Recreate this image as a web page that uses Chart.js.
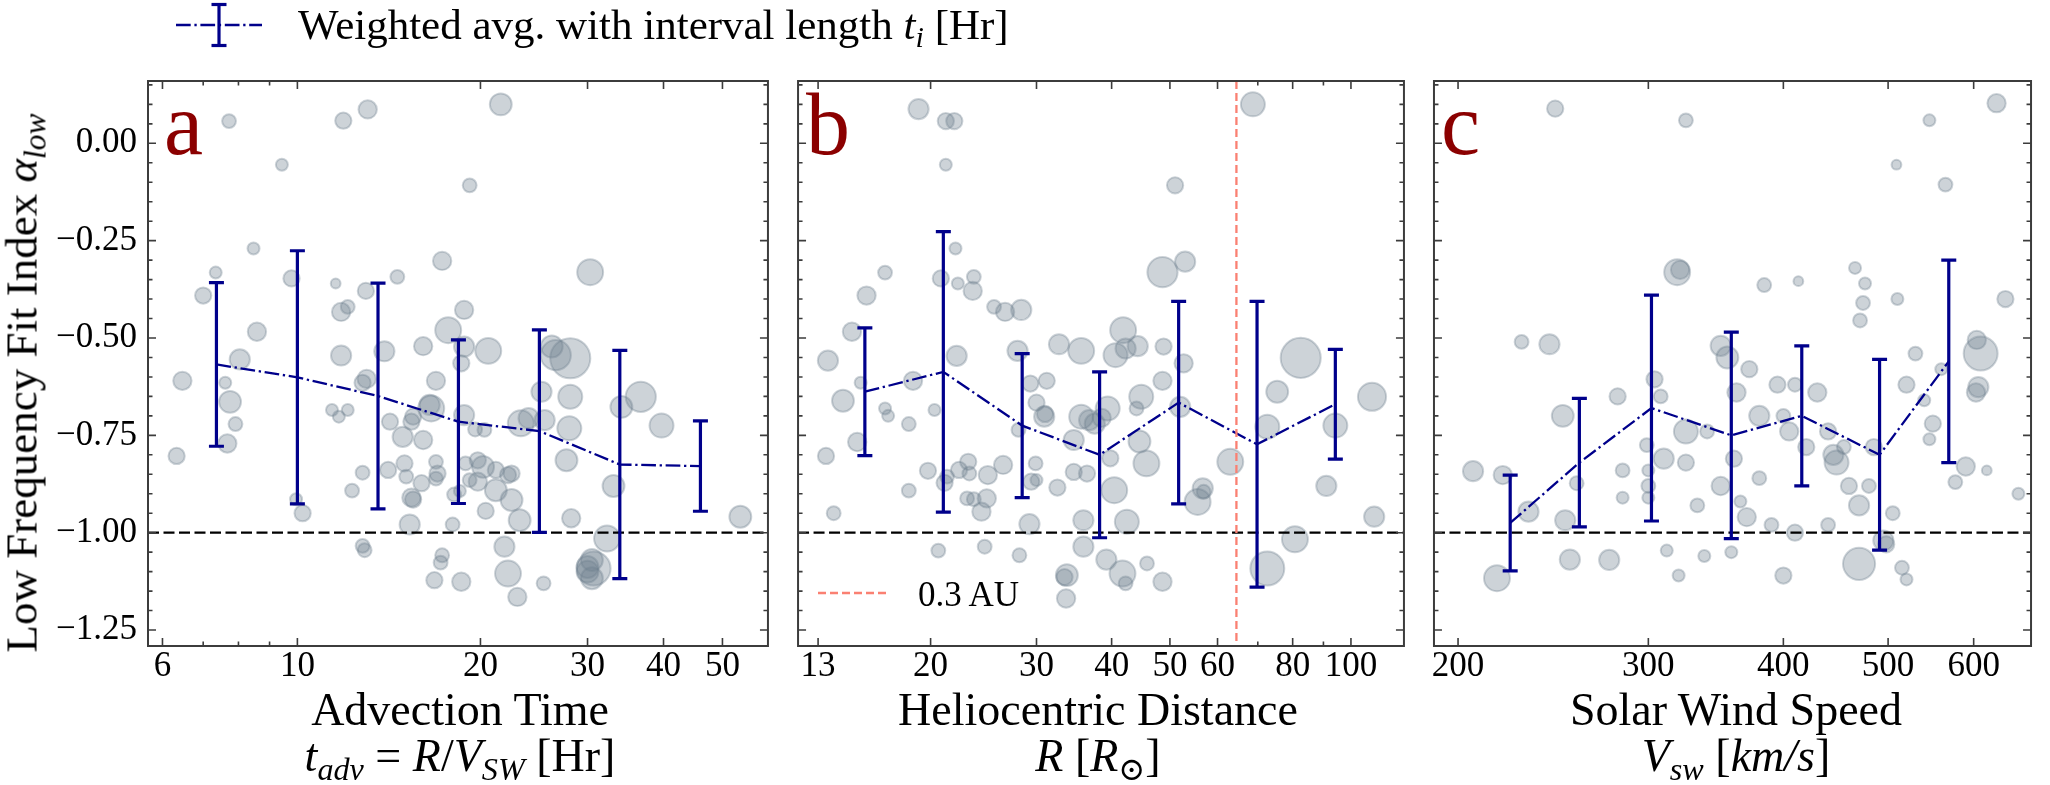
<!DOCTYPE html>
<html>
<head>
<meta charset="utf-8">
<script src="https://cdn.jsdelivr.net/npm/chart.js@4.4.0/dist/chart.umd.min.js"></script>
<style>
  body { margin: 0; background: #fff; width: 2050px; height: 785px; position: relative; overflow: hidden;
         font-family: 'Liberation Serif', 'DejaVu Serif', serif; color: #000; }
  canvas { position: absolute; top: 0; }
  .txt { position: absolute; white-space: nowrap; line-height: 1; }
  .xt { font-size: 46px; transform: translateX(-50%); }
  .letter { font-size: 88px; color: #8b0000; }
  sub { font-size: 0.7em; vertical-align: -0.28em; line-height: 0; }
</style>
</head>
<body>
<canvas id="chartA" width="790" height="785" style="left:0px"></canvas>
<canvas id="chartB" width="650" height="785" style="left:776px"></canvas>
<canvas id="chartC" width="635" height="785" style="left:1415px"></canvas>

<!-- legend for the weighted averages -->
<svg style="position:absolute;left:170px;top:0px" width="100" height="52">
  <line x1="6" y1="25" x2="92" y2="25" stroke="#00008b" stroke-width="2.3" stroke-dasharray="14.7 3.7 2.3 3.7"/>
  <line x1="49" y1="3" x2="49" y2="47" stroke="#00008b" stroke-width="3.2"/>
  <line x1="41.5" y1="4.5" x2="56.5" y2="4.5" stroke="#00008b" stroke-width="3.2"/>
  <line x1="41.5" y1="45.5" x2="56.5" y2="45.5" stroke="#00008b" stroke-width="3.2"/>
</svg>
<div class="txt" style="left:298px;top:3px;font-size:43px">Weighted avg. with interval length <i>t</i><sub><i>i</i></sub> [Hr]</div>

<div class="txt letter" style="left:164px;top:81px">a</div>
<div class="txt letter" style="left:806px;top:81px">b</div>
<div class="txt letter" style="left:1441px;top:81px">c</div>

<div class="txt" style="left:22px;top:383px;font-size:45px;transform:translate(-50%,-50%) rotate(-90deg)">Low Frequency Fit Index <i>α</i><sub><i>low</i></sub></div>

<div class="txt xt" style="left:460px;top:687px">Advection Time</div>
<div class="txt xt" style="left:460px;top:733px"><i>t</i><sub><i>adv</i></sub> = <i>R</i>/<i>V</i><sub><i>SW</i></sub> [Hr]</div>
<div class="txt xt" style="left:1098px;top:687px">Heliocentric Distance</div>
<div class="txt xt" style="left:1098px;top:733px"><i>R</i> [<i>R</i><sub>⊙</sub>]</div>
<div class="txt xt" style="left:1736px;top:687px">Solar Wind Speed</div>
<div class="txt xt" style="left:1736px;top:733px"><i>V</i><sub><i>sw</i></sub> [<i>km/s</i>]</div>

<svg style="position:absolute;left:810px;top:580px" width="90" height="26">
  <line x1="8" y1="13" x2="80" y2="13" stroke="#fa8072" stroke-width="2.3" stroke-dasharray="8 4"/>
</svg>
<div class="txt" style="left:918px;top:577px;font-size:35px">0.3 AU</div>

<script>
// shared y axis
const yMin = -1.291, yMax = 0.160;
const yMajor = [0, -0.25, -0.5, -0.75, -1, -1.25];
const yMinor = [-1.2, -1.15, -1.1, -1.05, -0.95, -0.9, -0.85, -0.8, -0.7, -0.65, -0.6, -0.55,
                -0.45, -0.4, -0.35, -0.3, -0.2, -0.15, -0.1, -0.05, 0.05, 0.1, 0.15];

// panel a: advection time [Hr]
const advTime = [7.72, 11.9, 13.05, 21.6, 9.43, 19.2, 8.47, 7.34, 7.0, 9.78, 11.56, 12.96, 14.6, 17.3, 30.3,
  11.8, 12.1, 18.8, 8.58, 17.7, 11.8, 13.9, 16.1, 18.8, 20.6, 18.6, 26.2, 26.6, 28.1, 8.04,
  6.47, 7.61, 7.75, 12.8, 13.0, 16.9, 25.2, 28.1, 11.4, 12.1, 11.7, 16.5, 16.6, 15.5, 14.2,
  18.8, 20.3, 23.3, 24.0, 25.5, 28.0, 7.91, 7.67, 6.33, 14.9, 16.1, 15.4, 19.6, 27.7, 12.8,
  14.1, 15.0, 15.1, 16.9, 17.0, 16.9, 16.0, 18.9, 19.8, 20.2, 19.8, 19.2, 21.2, 22.2, 22.5,
  21.2, 22.5, 12.3, 15.4, 15.5, 18.1, 18.5, 9.95, 10.2, 15.3, 18.0, 20.4, 23.2, 28.2, 12.8,
  12.9, 21.9, 17.3, 17.2, 16.8, 18.6, 22.2, 25.4, 23.0, 30.0, 30.0, 34.1, 36.7, 39.7, 33.1,
  53.5, 32.3, 30.7, 30.5, 30.5];
const advAlpha = [0.057, 0.058, 0.087, 0.100, -0.055, -0.108, -0.270, -0.332, -0.391, -0.347, -0.360, -0.379, -0.343, -0.302, -0.331,
  -0.433, -0.420, -0.428, -0.484, -0.480, -0.545, -0.534, -0.521, -0.522, -0.533, -0.565, -0.522, -0.544, -0.552, -0.555,
  -0.610, -0.615, -0.664, -0.615, -0.605, -0.610, -0.638, -0.651, -0.685, -0.685, -0.702, -0.672, -0.681, -0.702, -0.715,
  -0.698, -0.736, -0.719, -0.706, -0.711, -0.732, -0.721, -0.771, -0.803, -0.754, -0.762, -0.715, -0.735, -0.814, -0.846,
  -0.839, -0.822, -0.856, -0.818, -0.848, -0.861, -0.873, -0.822, -0.814, -0.831, -0.869, -0.865, -0.839, -0.852, -0.848,
  -0.891, -0.916, -0.892, -0.910, -0.915, -0.902, -0.893, -0.914, -0.950, -0.979, -0.979, -0.944, -0.968, -0.963, -1.034,
  -1.045, -1.036, -1.058, -1.077, -1.122, -1.126, -1.105, -1.130, -1.165, -1.088, -1.100, -0.677, -0.651, -0.725, -0.880,
  -0.959, -1.015, -1.092, -1.070, -1.117];
const advInterval = [8, 11, 14, 20, 6, 8, 6, 6, 11, 11, 4, 11, 8, 14, 28,
  14, 8, 14, 14, 28, 17, 17, 14, 17, 28, 11, 20, 38, 67, 17,
  14, 6, 20, 11, 14, 14, 17, 24, 6, 6, 6, 17, 28, 11, 11,
  17, 8, 28, 17, 17, 24, 8, 14, 11, 17, 14, 11, 8, 20, 8,
  11, 11, 8, 8, 11, 8, 11, 8, 11, 20, 14, 8, 11, 11, 11,
  20, 20, 8, 14, 11, 8, 6, 6, 11, 17, 8, 11, 20, 14, 8,
  8, 17, 8, 8, 11, 14, 28, 8, 14, 20, 20, 20, 38, 24, 20,
  20, 28, 48, 20, 20];
const advAvgX = [7.36, 10.0, 13.57, 18.4, 25.0, 33.9, 46.0];
const advAvgY = [-0.568, -0.601, -0.649, -0.715, -0.739, -0.825, -0.829];
const advAvgErr = [0.21, 0.325, 0.29, 0.21, 0.26, 0.293, 0.116];
const advMajor = [6, 10, 20, 30, 40, 50];
const advMinor = [7, 8, 9];

// panel b: heliocentric distance [R_sun]
const distR = [19.1, 21.2, 21.9, 21.2, 22.0, 16.8, 15.65, 20.8, 22.2, 23.5, 23.6, 25.5, 26.6, 28.3, 14.8,
  13.5, 22.1, 27.9, 32.7, 35.6, 15.3, 18.7, 14.3, 16.8, 17.0, 18.4, 20.3, 29.3, 31.2, 30.0,
  30.9, 31.0, 28.0, 35.6, 36.7, 34.6, 15.1, 13.4, 19.8, 18.4, 21.1, 21.3, 22.3, 23.1, 23.2,
  24.9, 26.4, 23.0, 23.6, 24.8, 24.3, 29.9, 29.4, 30.0, 32.5, 34.6, 13.8, 29.2, 35.9, 35.9,
  20.6, 24.6, 28.1, 33.7, 33.4, 33.6, 68.7, 51.0, 48.6, 53.0, 41.8, 40.6, 42.2, 44.2, 48.8,
  52.7, 48.6, 44.8, 44.0, 39.4, 52.0, 75.4, 82.5, 108.4, 94.2, 72.6, 37.5, 38.5, 44.5, 39.8,
  45.7, 40.4, 36.4, 63.0, 55.6, 56.7, 56.9, 42.4, 39.2, 41.7, 42.2, 45.8, 48.6, 80.7, 72.6,
  91.0, 109.3];
const distAlpha = [0.088, 0.057, 0.057, -0.055, -0.270, -0.332, -0.391, -0.347, -0.360, -0.379, -0.343, -0.420, -0.433, -0.428, -0.484,
  -0.558, -0.546, -0.533, -0.516, -0.533, -0.615, -0.610, -0.661, -0.681, -0.700, -0.721, -0.685, -0.617, -0.610, -0.666,
  -0.702, -0.695, -0.736, -0.702, -0.711, -0.762, -0.767, -0.803, -0.841, -0.892, -0.872, -0.856, -0.839, -0.818, -0.848,
  -0.852, -0.826, -0.912, -0.914, -0.912, -0.946, -0.822, -0.869, -0.865, -0.884, -0.844, -0.950, -0.978, -0.968, -1.036,
  -1.046, -1.036, -1.058, -1.109, -1.114, -1.169, 0.100, -0.108, -0.331, -0.304, -0.480, -0.544, -0.527, -0.521, -0.522,
  -0.565, -0.610, -0.651, -0.681, -0.681, -0.677, -0.638, -0.551, -0.651, -0.725, -0.728, -0.720, -0.705, -0.766, -0.809,
  -0.822, -0.891, -0.848, -0.818, -0.921, -0.886, -0.895, -0.972, -1.069, -1.105, -1.130, -1.079, -1.126, -1.017, -1.092,
  -0.880, -0.959];
const distInterval = [17, 11, 11, 6, 6, 8, 14, 11, 6, 14, 8, 8, 14, 17, 14,
  17, 17, 17, 17, 28, 6, 14, 20, 6, 6, 8, 6, 11, 11, 11,
  17, 11, 8, 24, 17, 17, 14, 11, 11, 8, 11, 8, 11, 11, 8,
  14, 14, 8, 8, 14, 14, 8, 11, 6, 11, 11, 8, 17, 17, 17,
  8, 8, 8, 20, 11, 14, 24, 11, 38, 17, 28, 24, 17, 17, 11,
  14, 14, 24, 8, 24, 17, 20, 67, 33, 24, 24, 17, 14, 20, 11,
  28, 28, 11, 28, 28, 17, 8, 24, 17, 28, 8, 8, 14, 28, 48,
  17, 17];
const distAvgX = [15.55, 21.0, 28.4, 38.2, 51.7, 69.8, 94.2];
const distAvgY = [-0.638, -0.587, -0.725, -0.800, -0.666, -0.773, -0.670];
const distAvgErr = [0.164, 0.360, 0.185, 0.213, 0.260, 0.367, 0.141];
const distMajor = [13, 20, 30, 40, 50, 60, 80, 100];
const distMinor = [70, 90];
const distPointThreeAU = 64.5;

// panel c: solar wind speed [km/s]
const speed = [246, 325, 546, 630, 509, 565, 319, 321, 384, 413, 466, 476, 474, 471, 243,
  229, 250, 206.5, 220, 232.4, 217.3, 251.3, 253.8, 257.5, 281, 304, 308, 299, 310, 300,
  300, 300, 284, 284, 325, 325, 333, 320, 312, 338, 276, 350, 355, 362, 372,
  380, 395, 400, 405, 410, 420, 430, 440, 445, 448, 455, 460, 470, 480, 485,
  495, 498, 505, 515, 520, 470, 440, 410, 400, 390, 370, 358, 350, 340, 380,
  360, 365, 604, 642, 609, 606, 603, 550, 546, 577, 617, 660, 540, 530, 520,
  560, 590, 510];
const speedAlpha = [0.089, 0.059, 0.059, 0.103, -0.055, -0.106, -0.331, -0.325, -0.364, -0.354, -0.32, -0.36, -0.41, -0.455, -0.516,
  -0.51, -0.70, -0.842, -0.852, -0.946, -1.117, -0.968, -1.069, -0.873, -0.65, -0.606, -0.65, -0.775, -0.81, -0.84,
  -0.88, -0.91, -0.84, -0.91, -0.74, -0.82, -0.93, -1.11, -1.046, -1.06, -1.07, -0.52, -0.55, -0.64, -0.58,
  -0.70, -0.62, -0.70, -0.74, -0.62, -0.78, -0.64, -0.74, -0.80, -0.82, -0.78, -0.88, -0.93, -0.88, -0.78,
  -1.02, -1.03, -0.95, -1.09, -1.12, -1.08, -0.98, -1.00, -1.11, -0.98, -0.96, -1.05, -0.88, -0.74, -0.86,
  -0.81, -0.92, -0.505, -0.40, -0.54, -0.626, -0.64, -0.72, -0.76, -0.87, -0.84, -0.90, -0.66, -0.54, -0.62,
  -0.58, -0.83, -0.40];
const speedInterval = [11, 8, 6, 14, 4, 8, 28, 14, 8, 4, 6, 6, 8, 8, 17,
  8, 20, 17, 14, 17, 28, 17, 17, 8, 11, 11, 8, 8, 17, 6,
  8, 6, 8, 6, 24, 11, 8, 6, 6, 6, 17, 17, 20, 14, 11,
  17, 11, 8, 14, 8, 11, 14, 11, 17, 24, 8, 11, 17, 8, 11,
  17, 11, 8, 8, 6, 43, 8, 11, 11, 8, 14, 6, 14, 8, 8,
  11, 6, 14, 11, 48, 17, 14, 11, 6, 8, 4, 6, 6, 8, 11,
  6, 14, 6];
const speedAvgX = [223.5, 259, 302, 358, 416, 491, 569];
const speedAvgY = [-0.975, -0.82, -0.68, -0.75, -0.70, -0.80, -0.56];
const speedAvgErr = [0.123, 0.165, 0.29, 0.265, 0.18, 0.245, 0.26];
const speedMajor = [200, 300, 400, 500, 600];
const speedMinor = [];

const NAVY = '#00008b';
const BUBBLE = 'rgba(112,128,144,0.35)';
const AXIS = '#3c3c3c';
const FONT = "'Liberation Serif', 'DejaVu Serif', serif";

// marker area follows the interval length
const bubbleRadius = t => Math.sqrt(6 * t);

function decor(cfg) {
  return {
    id: 'decor',
    afterDatasetsDraw(chart) {
      const { ctx, chartArea: a, scales: { x, y } } = chart;
      ctx.save();
      ctx.beginPath();
      ctx.rect(a.left, a.top, a.right - a.left, a.bottom - a.top);
      ctx.clip();

      // alpha = -1 reference line
      const yRef = y.getPixelForValue(-1);
      ctx.strokeStyle = '#000';
      ctx.lineWidth = 2.3;
      ctx.setLineDash([11, 4.5]);
      ctx.beginPath();
      ctx.moveTo(a.left, yRef);
      ctx.lineTo(a.right, yRef);
      ctx.stroke();

      if (cfg.vline) {
        const xv = x.getPixelForValue(cfg.vline);
        ctx.strokeStyle = '#fa8072';
        ctx.setLineDash([8, 4]);
        ctx.beginPath();
        ctx.moveTo(xv, a.top);
        ctx.lineTo(xv, a.bottom);
        ctx.stroke();
      }

      // error bars
      ctx.setLineDash([]);
      ctx.strokeStyle = NAVY;
      ctx.lineWidth = 3.2;
      cfg.avgX.forEach((v, i) => {
        const px = x.getPixelForValue(v);
        const top = y.getPixelForValue(cfg.avgY[i] + cfg.err[i]);
        const bot = y.getPixelForValue(cfg.avgY[i] - cfg.err[i]);
        ctx.beginPath();
        ctx.moveTo(px, top); ctx.lineTo(px, bot);
        ctx.moveTo(px - 7.5, top); ctx.lineTo(px + 7.5, top);
        ctx.moveTo(px - 7.5, bot); ctx.lineTo(px + 7.5, bot);
        ctx.stroke();
      });
      ctx.restore();
    },
    afterDraw(chart) {
      const { ctx, chartArea: a, scales: { x, y } } = chart;
      ctx.save();
      ctx.strokeStyle = AXIS;
      ctx.lineWidth = 1.6;
      const tick = (x0, y0, x1, y1) => { ctx.moveTo(x0, y0); ctx.lineTo(x1, y1); };
      ctx.beginPath();
      cfg.major.forEach(v => {
        const px = x.getPixelForValue(v);
        tick(px, a.bottom, px, a.bottom - 8);
        tick(px, a.top, px, a.top + 8);
      });
      cfg.minor.forEach(v => {
        const px = x.getPixelForValue(v);
        tick(px, a.bottom, px, a.bottom - 4.5);
        tick(px, a.top, px, a.top + 4.5);
      });
      yMajor.forEach(v => {
        const py = y.getPixelForValue(v);
        tick(a.left, py, a.left + 8, py);
        tick(a.right, py, a.right - 8, py);
      });
      yMinor.forEach(v => {
        const py = y.getPixelForValue(v);
        tick(a.left, py, a.left + 4.5, py);
        tick(a.right, py, a.right - 4.5, py);
      });
      ctx.stroke();
      ctx.lineWidth = 2;
      ctx.strokeRect(a.left, a.top, a.right - a.left, a.bottom - a.top);
      ctx.restore();
    }
  };
}

function makePanel(id, cfg) {
  const points = cfg.xs.map((v, i) => ({ x: v, y: cfg.ys[i], r: bubbleRadius(cfg.ts[i]) }));
  const avgLine = cfg.avgX.map((v, i) => ({ x: v, y: cfg.avgY[i] }));

  return new Chart(document.getElementById(id), {
    type: 'bubble',
    data: {
      datasets: [
        {
          type: 'line',
          data: avgLine,
          borderColor: NAVY,
          borderWidth: 2.3,
          borderDash: [14.7, 3.7, 2.3, 3.7],
          pointRadius: 0,
          fill: false,
          tension: 0,
          order: 0
        },
        {
          type: 'bubble',
          data: points,
          backgroundColor: BUBBLE,
          borderColor: BUBBLE,
          borderWidth: 2,
          order: 1
        }
      ]
    },
    options: {
      responsive: false,
      animation: false,
      devicePixelRatio: 1,
      events: [],
      layout: { padding: { top: 81, right: cfg.padRight, bottom: 0, left: 0 } },
      plugins: { legend: { display: false }, tooltip: { enabled: false } },
      scales: {
        x: {
          type: 'logarithmic',
          min: cfg.xMin,
          max: cfg.xMax,
          grid: { display: false, drawTicks: false },
          border: { display: false },
          afterBuildTicks: ax => { ax.ticks = cfg.major.map(v => ({ value: v })); },
          afterFit: ax => { ax.height = 139; },
          ticks: {
            autoSkip: false,
            maxRotation: 0,
            padding: 0,
            color: '#000',
            font: { family: FONT, size: 35 },
            callback: v => String(v)
          }
        },
        y: {
          type: 'linear',
          min: yMin,
          max: yMax,
          grid: { display: false, drawTicks: false },
          border: { display: false },
          afterBuildTicks: ax => { ax.ticks = yMajor.map(v => ({ value: v })); },
          afterFit: ax => { ax.width = cfg.yWidth; },
          ticks: {
            display: cfg.showY,
            padding: 11,
            color: '#000',
            font: { family: FONT, size: 35 },
            callback: v => v.toFixed(2).replace('-', '\u2212')
          }
        }
      }
    },
    plugins: [decor(cfg)]
  });
}

makePanel('chartA', {
  xs: advTime, ys: advAlpha, ts: advInterval,
  avgX: advAvgX, avgY: advAvgY, err: advAvgErr,
  major: advMajor, minor: advMinor,
  xMin: 5.68, xMax: 59.4, yWidth: 148, showY: true, padRight: 19
});
makePanel('chartB', {
  xs: distR, ys: distAlpha, ts: distInterval,
  avgX: distAvgX, avgY: distAvgY, err: distAvgErr,
  major: distMajor, minor: distMinor, vline: distPointThreeAU,
  xMin: 12.04, xMax: 122.5, yWidth: 10, showY: false, padRight: 17
});
makePanel('chartC', {
  xs: speed, ys: speedAlpha, ts: speedInterval,
  avgX: speedAvgX, avgY: speedAvgY, err: speedAvgErr,
  major: speedMajor, minor: speedMinor,
  xMin: 190, xMax: 678, yWidth: 10, showY: false, padRight: 3
});
</script>
</body>
</html>
